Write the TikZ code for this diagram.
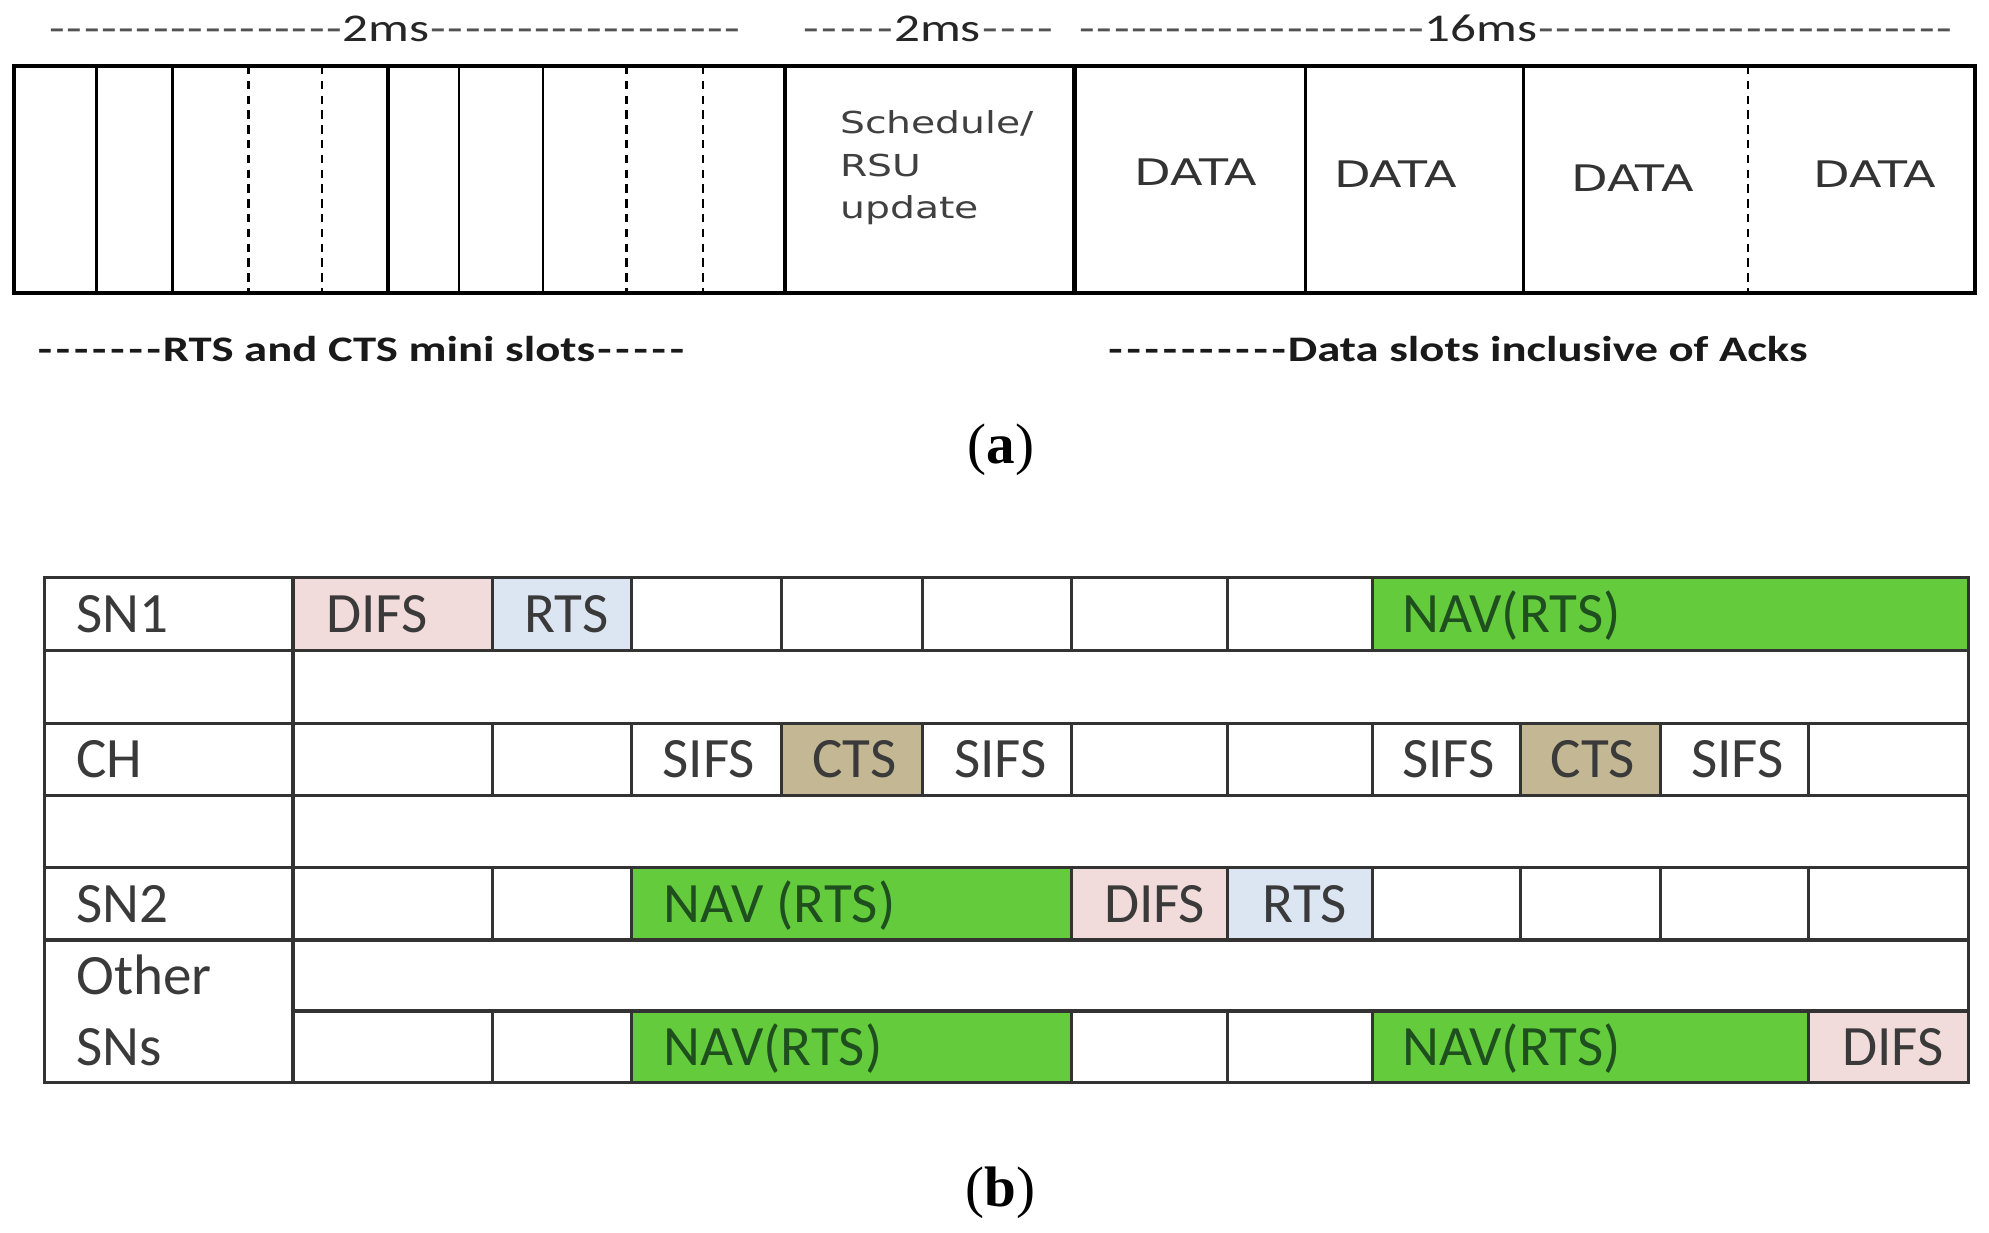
\documentclass[tikz,border=0pt]{standalone}
\usepackage{fontspec}
\usepackage{graphicx}
\setmainfont{Carlito}
\newfontfamily\dejavu{DejaVu Sans}
\newfontfamily\timesf{Liberation Serif}
\definecolor{pinkc}{HTML}{F2DCDB}
\definecolor{bluec}{HTML}{DCE6F2}
\definecolor{greenc}{HTML}{64CC3C}
\definecolor{tanc}{HTML}{C4B794}
\definecolor{navtext}{HTML}{1F4F1F}
\definecolor{tgrey}{HTML}{3A3A3A}
\definecolor{tline}{HTML}{333333}
\newcommand\hy[2]{{\color{black!68}\foreach\k in {1,...,#1}{\makebox[#2]{-}}}}
\newcommand\hyb[2]{\foreach\k in {1,...,#1}{\makebox[#2]{-}}}
\newcommand\wide[1]{\scalebox{1.3}[1]{#1}}
\newcommand\cellr[5]{\filldraw[tbl,fill=#5] (#1,#3) rectangle (#2,#4);}
\begin{document}
\begin{tikzpicture}[x=0.6pt,y=-0.6pt,
 tbl/.style={draw=tline, line width=1.45pt},
 ttxt/.style={anchor=base west, inner sep=0pt, text=tgrey, font=\fontsize{27}{32}\selectfont},
 navt/.style={ttxt, text=navtext},
 hdr/.style={anchor=base west, inner sep=0pt, text=black!85, font=\fontsize{18.6}{22}\selectfont},
 captxt/.style={anchor=base west, inner sep=0pt, text=black!90, font=\bfseries\fontsize{17}{20}\selectfont},
 datat/.style={anchor=base, inner sep=0pt, text=black!80, font=\dejavu\fontsize{17.3}{20}\selectfont},
 schedt/.style={anchor=base west, inner sep=0pt, text=black!75, font=\dejavu\fontsize{14.3}{17}\selectfont},
 figlab/.style={anchor=base, inner sep=0pt, font=\timesf\fontsize{27}{30}\selectfont},
 thickv/.style={line width=2pt},
 thinv/.style={line width=1.1pt},
 dashv/.style={line width=1.1pt, dash pattern=on 4pt off 3pt}]
\path[fill=white] (0,0) rectangle (1568,972);
\useasboundingbox (0,0) rectangle (1568,972);

% ---------------- (a) ----------------
\node[hdr] (h1) at (38,33) {\wide{\hy{17}{6.3pt}2ms\hy{18}{6.3pt}}};
\node[hdr] (h2) at (632,33) {\wide{\hy{5}{6.7pt}2ms\hy{4}{6.7pt}}};
\node[hdr] (h3) at (850,33) {\wide{\hy{20}{6.3pt}16ms\hy{24}{6.3pt}}};

\foreach \xx in {76,136,362,428} \draw[thinv] (\xx,52) -- (\xx,231);
\foreach \xx in {1029,1201} \draw[line width=1.3pt] (\xx,52) -- (\xx,231);
\foreach \xx in {306,619,847} \draw[thickv] (\xx,52) -- (\xx,231);
\foreach \xx in {196,254,494,554,1378} \draw[dashv] (\xx,52) -- (\xx,231);
\draw[line width=2.2pt] (11,52) rectangle (1557,231);

\node[schedt] (s1) at (662,105) {\wide{Schedule/}};
\node[schedt] (s2) at (662,139.5) {\wide{RSU}};
\node[schedt] (s3) at (662,172) {\wide{update}};
\node[datat] (d1) at (943,146) {\wide{DATA}};
\node[datat] (d2) at (1100,148) {\wide{DATA}};
\node[datat] (d3) at (1287,151) {\wide{DATA}};
\node[datat] (d4) at (1478,148) {\wide{DATA}};

\node[captxt] (c1) at (28,285) {\wide{\hyb{7}{6.6pt}RTS and CTS mini slots\hyb{5}{6.6pt}}};
\node[captxt] (c2) at (872,285) {\wide{\hyb{10}{6.6pt}Data slots inclusive of Acks}};

\node[figlab] (laba) at (789,365) {(\textbf{a})};

% ---------------- (b) ----------------
% row 1
\cellr{35}{231}{455}{513}{white}
\cellr{231}{388}{455}{513}{pinkc}
\cellr{388}{498}{455}{513}{bluec}
\foreach \a/\b in {498/616,616/727,727/845,845/968,968/1082} {\cellr{\a}{\b}{455}{513}{white}}
\cellr{1082}{1552}{455}{513}{greenc}
% row 2
\cellr{35}{231}{513}{570}{white}
\cellr{231}{1552}{513}{570}{white}
% row 3
\cellr{35}{231}{570}{627}{white}
\foreach \a/\b in {231/388,388/498,498/616,727/845,845/968,968/1082,1082/1199,1309/1426,1426/1552} {\cellr{\a}{\b}{570}{627}{white}}
\cellr{616}{727}{570}{627}{tanc}
\cellr{1199}{1309}{570}{627}{tanc}
% row 4
\cellr{35}{231}{627}{684}{white}
\cellr{231}{1552}{627}{684}{white}
% row 5
\cellr{35}{231}{684}{741}{white}
\foreach \a/\b in {231/388,388/498,1082/1199,1199/1309,1309/1426,1426/1552} {\cellr{\a}{\b}{684}{741}{white}}
\cellr{498}{845}{684}{741}{greenc}
\cellr{845}{968}{684}{741}{pinkc}
\cellr{968}{1082}{684}{741}{bluec}
% rows 6-7
\cellr{35}{231}{741}{853}{white}
\cellr{231}{1552}{741}{797}{white}
\foreach \a/\b in {231/388,388/498,845/968,968/1082} {\cellr{\a}{\b}{797}{853}{white}}
\cellr{498}{845}{797}{853}{greenc}
\cellr{1082}{1426}{797}{853}{greenc}
\cellr{1426}{1552}{797}{853}{pinkc}

% texts
\node[ttxt] (lsn1) at (60,499) {SN1};
\node[ttxt] (difs1) at (257,499) {DIFS};
\node[ttxt] (rts1) at (413,499) {RTS};
\node[navt] (nav1) at (1105,499) {NAV(RTS)};

\node[ttxt] (lch) at (60,613) {CH};
\node[ttxt] (sifs1) at (522,613) {SIFS};
\node[ttxt] (cts1) at (640,613) {CTS};
\node[ttxt] (sifs2) at (752,613) {SIFS};
\node[ttxt] (sifs3) at (1105,613) {SIFS};
\node[ttxt] (cts2) at (1222,613) {CTS};
\node[ttxt] (sifs4) at (1333,613) {SIFS};

\node[ttxt] (lsn2) at (60,727) {SN2};
\node[navt] (nav2) at (523,727) {NAV (RTS)};
\node[ttxt] (difs2) at (870,727) {DIFS};
\node[ttxt] (rts2) at (995,727) {RTS};

\node[ttxt] (lother) at (60,784) {Other};
\node[ttxt] (lsns) at (60,840) {SNs};
\node[navt] (nav3) at (523,840) {NAV(RTS)};
\node[navt] (nav4) at (1105,840) {NAV(RTS)};
\node[ttxt] (difs3) at (1452,840) {DIFS};

\node[figlab] (labb) at (789,951) {(\textbf{b})};
\end{tikzpicture}
\end{document}
